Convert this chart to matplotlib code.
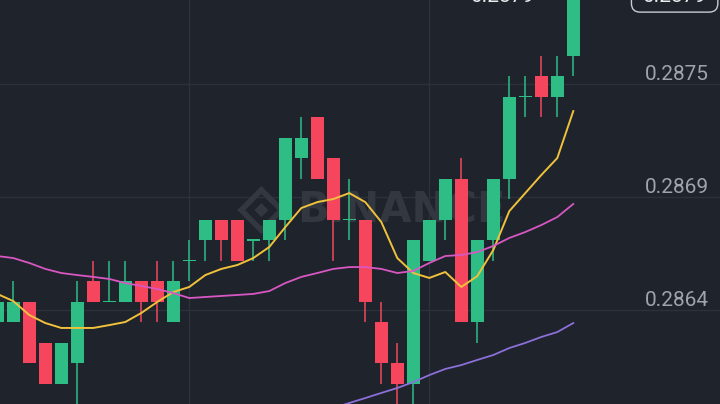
import numpy as np
import matplotlib
matplotlib.use("Agg")
import matplotlib.pyplot as plt
from matplotlib.patches import FancyBboxPatch, Polygon
import matplotlib.transforms as mtransforms

# candle data (0.0001 tick)
opens = [0.2863, 0.2863, 0.2864, 0.2862, 0.2860, 0.2861, 0.2865, 0.2864, 0.2864, 0.2865,
         0.2865, 0.2863, 0.2866, 0.2867, 0.2868, 0.2868, 0.2867, 0.2867, 0.2868, 0.2871,
         0.2873, 0.2871, 0.2868, 0.2868, 0.2863, 0.2861, 0.2860, 0.2866, 0.2868, 0.2870,
         0.2863, 0.2867, 0.2870, 0.2874, 0.2875, 0.2874, 0.2876]
highs = [0.2864, 0.2865, 0.2864, 0.2862, 0.2862, 0.2865, 0.2866, 0.2866, 0.2866, 0.2865,
         0.2866, 0.2866, 0.2867, 0.2868, 0.2868, 0.2868, 0.2867, 0.2868, 0.2872, 0.2873,
         0.2873, 0.2871, 0.2870, 0.2868, 0.2864, 0.2862, 0.2867, 0.2868, 0.2870, 0.2871,
         0.2867, 0.2870, 0.2875, 0.2875, 0.2876, 0.2876, 0.2879]
lows = [0.2863, 0.2863, 0.2861, 0.2860, 0.2860, 0.2858, 0.2864, 0.2864, 0.2864, 0.2863,
        0.2863, 0.2863, 0.2865, 0.2866, 0.2866, 0.2866, 0.2866, 0.2866, 0.2867, 0.2870,
        0.2870, 0.2866, 0.2867, 0.2863, 0.2860, 0.2858, 0.2858, 0.2866, 0.2867, 0.2863,
        0.2862, 0.2866, 0.2869, 0.2873, 0.2873, 0.2873, 0.2875]
closes = [0.2864, 0.2864, 0.2861, 0.2860, 0.2862, 0.2864, 0.2864, 0.2864, 0.2865, 0.2864,
          0.2864, 0.2865, 0.2866, 0.2868, 0.2867, 0.2866, 0.2867, 0.2868, 0.2872, 0.2872,
          0.2870, 0.2868, 0.2868, 0.2864, 0.2861, 0.2860, 0.2867, 0.2868, 0.2870, 0.2863,
          0.2867, 0.2870, 0.2874, 0.2874, 0.2874, 0.2875, 0.2879]

ma7 = [0.286437, 0.286402, 0.286334, 0.286295, 0.286271, 0.286271, 0.286271, 0.286285,
       0.286300, 0.286344, 0.286398, 0.286446, 0.286471, 0.286529, 0.286559, 0.286578,
       0.286612, 0.286666, 0.286763, 0.286856, 0.286885, 0.286900, 0.286929, 0.286885,
       0.286788, 0.286612, 0.286539, 0.286515, 0.286544, 0.286471, 0.286524, 0.286651,
       0.286841, 0.286929, 0.287017, 0.287100, 0.287329]
ma25 = [0.286622, 0.286612, 0.286588, 0.286559, 0.286539, 0.286529, 0.286520, 0.286510,
        0.286490, 0.286476, 0.286461, 0.286441, 0.286417, 0.286422, 0.286427, 0.286432,
        0.286437, 0.286451, 0.286490, 0.286520, 0.286539, 0.286559, 0.286568, 0.286568,
        0.286559, 0.286539, 0.286549, 0.286588, 0.286622, 0.286627, 0.286641, 0.286671,
        0.286710, 0.286739, 0.286773, 0.286812, 0.286876]
ma99_start = 21
ma99 = [0.285880, 0.285905, 0.285929, 0.285954, 0.285978, 0.286007, 0.286041, 0.286071,
        0.286090, 0.286115, 0.286139, 0.286173, 0.286198, 0.286227, 0.286251, 0.286295]

grid_prices = [0.28746, 0.28691, 0.28636]
vgrid_idx = [12, 27]
high_label = "0.2879"
last_label = "0.2879"

BG = "#1f232b"
GRID = "#2c313a"
UP = "#2ebd85"
DOWN = "#f6465d"
FONT = ["Roboto", "DejaVu Sans"]

fig = plt.figure(figsize=(7.2, 4.04), dpi=100, facecolor=BG)
ax = fig.add_axes([0, 0, 1, 1], facecolor=BG)
ax.set_xlim(0.169, 45.169)
ax.set_ylim(0.28590, 0.287871)
ax.axis("off")

for p in grid_prices:
    ax.axhline(p, color=GRID, lw=1.0, zorder=0)
for i in vgrid_idx:
    ax.axvline(i, color=GRID, lw=1.0, zorder=0)

# watermark
wm = "#323740"
ax.text(0.413, 0.478, "BINANCE", transform=ax.transAxes, fontsize=30,
        fontweight="bold", color=wm, ha="left", va="center", zorder=1,
        family="DejaVu Sans")
cx, cy = 0.363, 0.48
sx, sy = 0.028, 0.05
outer = Polygon([[cx, cy + sy], [cx + sx, cy], [cx, cy - sy], [cx - sx, cy]],
                closed=True, fill=False, ec=wm, lw=4, transform=ax.transAxes, zorder=1)
inner = Polygon([[cx, cy + sy * 0.35], [cx + sx * 0.35, cy], [cx, cy - sy * 0.35],
                 [cx - sx * 0.35, cy]], closed=True, fc=wm, ec="none",
                transform=ax.transAxes, zorder=1)
ax.add_patch(outer)
ax.add_patch(inner)

x = np.arange(len(opens))
o = np.array(opens)
c = np.array(closes)
h = np.array(highs)
l = np.array(lows)
up = c >= o
colors = np.where(up, UP, DOWN)

ax.vlines(x, l, h, colors=colors, lw=1.1, zorder=2)
bottoms = np.minimum(o, c)
heights = np.maximum(np.abs(c - o), 7e-6)
bottoms = np.where(np.abs(c - o) < 1e-9, bottoms - 3.5e-6, bottoms)
ax.bar(x, heights, bottom=bottoms, width=0.83, color=colors, lw=0, zorder=3)

ax.plot(x, ma7, color="#f0c13c", lw=1.4, zorder=4, solid_joinstyle="round")
ax.plot(x, ma25, color="#d957c3", lw=1.3, zorder=4, solid_joinstyle="round")
ax.plot(np.arange(ma99_start, ma99_start + len(ma99)), ma99, color="#8c6fd9",
        lw=1.3, zorder=4, solid_joinstyle="round")

# price axis labels
blend = mtransforms.blended_transform_factory(ax.transAxes, ax.transData)
for p in grid_prices:
    ax.text(0.985, p, f"{p:.4f}",
            transform=blend + mtransforms.ScaledTranslation(0, 0.04, fig.dpi_scale_trans),
            ha="right", va="baseline", fontsize=15, color="#9fa4ac", zorder=5, family=FONT)

# labels cut off at the top edge
down = mtransforms.ScaledTranslation(0, -0.015, fig.dpi_scale_trans)
ax.text(0.699, 1.0, high_label, transform=ax.transAxes + down,
        ha="center", va="baseline", fontsize=15, color="#eaecef", zorder=5, family=FONT)
box = FancyBboxPatch((0.877, 0.97), 0.12, 0.1, boxstyle="round,pad=0,rounding_size=0.012",
                     transform=ax.transAxes, fc=BG, ec="#c9ccd1", lw=1.0, zorder=5,
                     mutation_aspect=1.8)
ax.add_patch(box)
ax.text(0.937, 1.0, last_label, transform=ax.transAxes + down,
        ha="center", va="baseline", fontsize=15, color="#eaecef", zorder=6, family=FONT)

fig.savefig("out.png", dpi=100, facecolor=BG)
